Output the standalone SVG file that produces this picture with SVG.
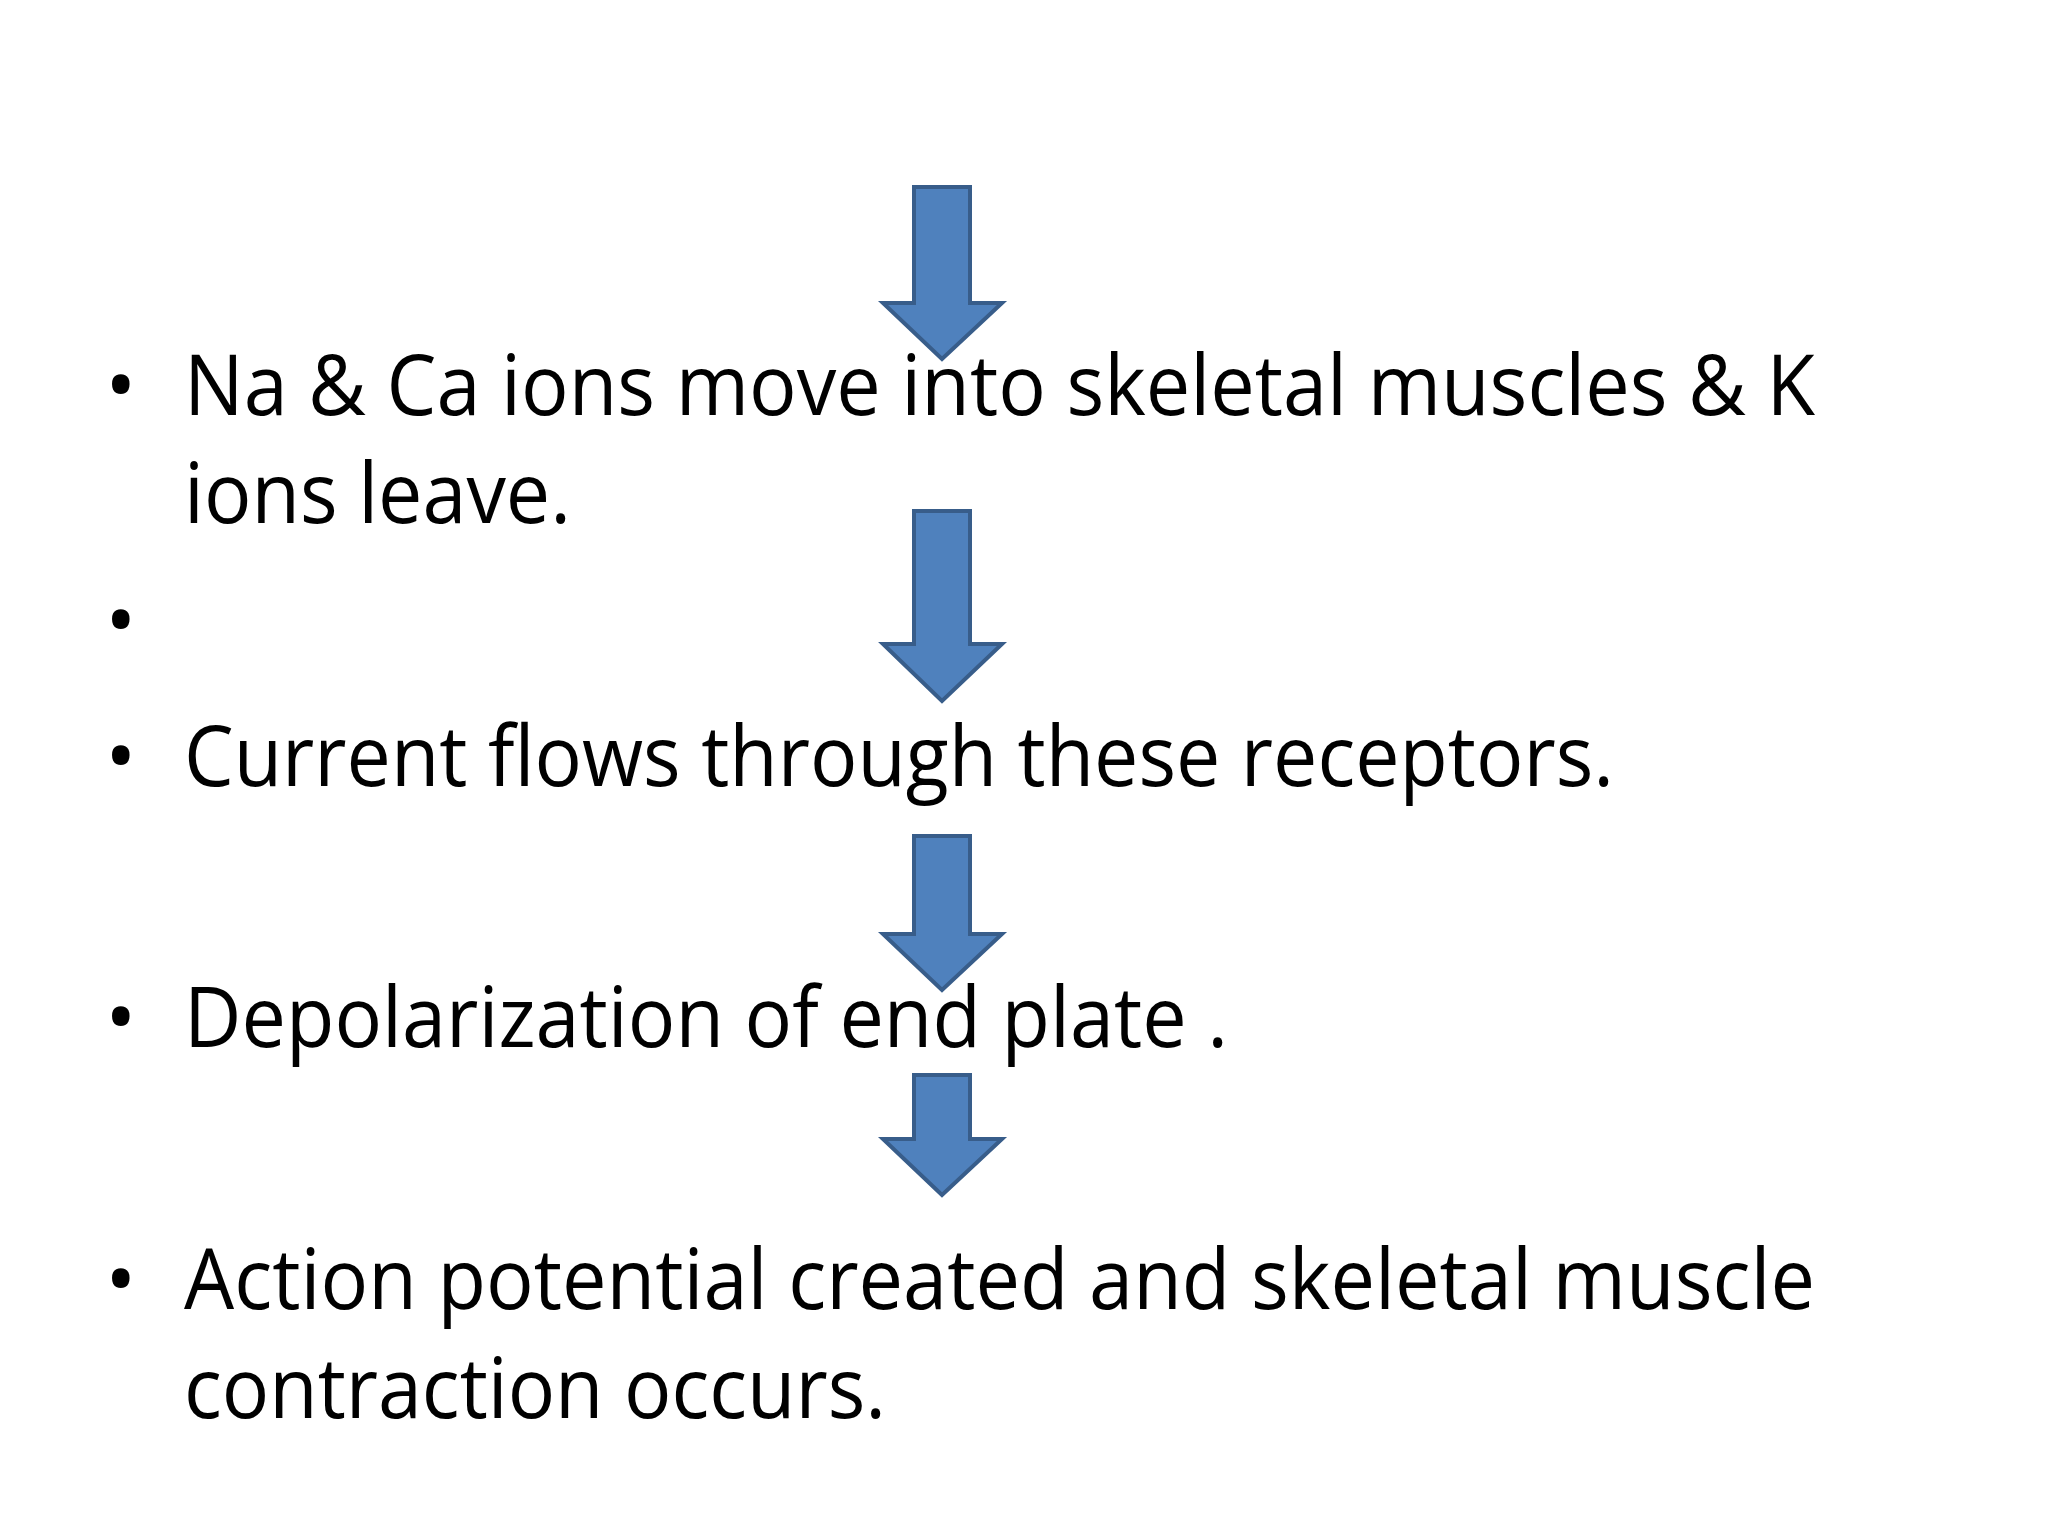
<svg xmlns="http://www.w3.org/2000/svg" width="2048" height="1536" viewBox="0 0 2048 1536">
<style>
.a{fill:#4f81bd;stroke:#385d8a;stroke-width:4;stroke-linejoin:miter}
.t{font-family:"Open Sans","Liberation Sans",sans-serif;font-size:84px;fill:#000}
</style>
<rect width="2048" height="1536" fill="#fff"/>
<g id="connectors">
<polygon class="a" points="914,187 970,187 970,303 1002,303 942,359 883,303 914,303"/>
<polygon class="a" points="914,511 970,511 970,644 1002,644 942,701 883,644 914,644"/>
<polygon class="a" points="914,836 970,836 970,934 1002,934 942,990 883,934 914,934"/>
<polygon class="a" points="914,1075 970,1075 970,1139 1002,1139 942,1195 883,1139 914,1139"/>
</g>
<g id="n1"><text class="t" x="105" y="415">•</text><text class="t" x="184" y="415" textLength="1631" lengthAdjust="spacingAndGlyphs">Na &amp; Ca ions move into skeletal muscles &amp; K</text><text class="t" x="184" y="523" textLength="387" lengthAdjust="spacingAndGlyphs">ions leave.</text></g>
<g id="n2"><text class="t" x="105" y="650">•</text></g>
<g id="n3"><text class="t" x="105" y="786">•</text><text class="t" x="184" y="786" textLength="1430" lengthAdjust="spacingAndGlyphs">Current flows through these receptors.</text></g>
<g id="n4"><text class="t" x="105" y="1047">•</text><text class="t" x="184" y="1047" textLength="1044" lengthAdjust="spacingAndGlyphs">Depolarization of end plate .</text></g>
<g id="n5"><text class="t" x="105" y="1309">•</text><text class="t" x="184" y="1309" textLength="1631" lengthAdjust="spacingAndGlyphs">Action potential created and skeletal muscle</text><text class="t" x="184" y="1418" textLength="702" lengthAdjust="spacingAndGlyphs">contraction occurs.</text></g>
</svg>
